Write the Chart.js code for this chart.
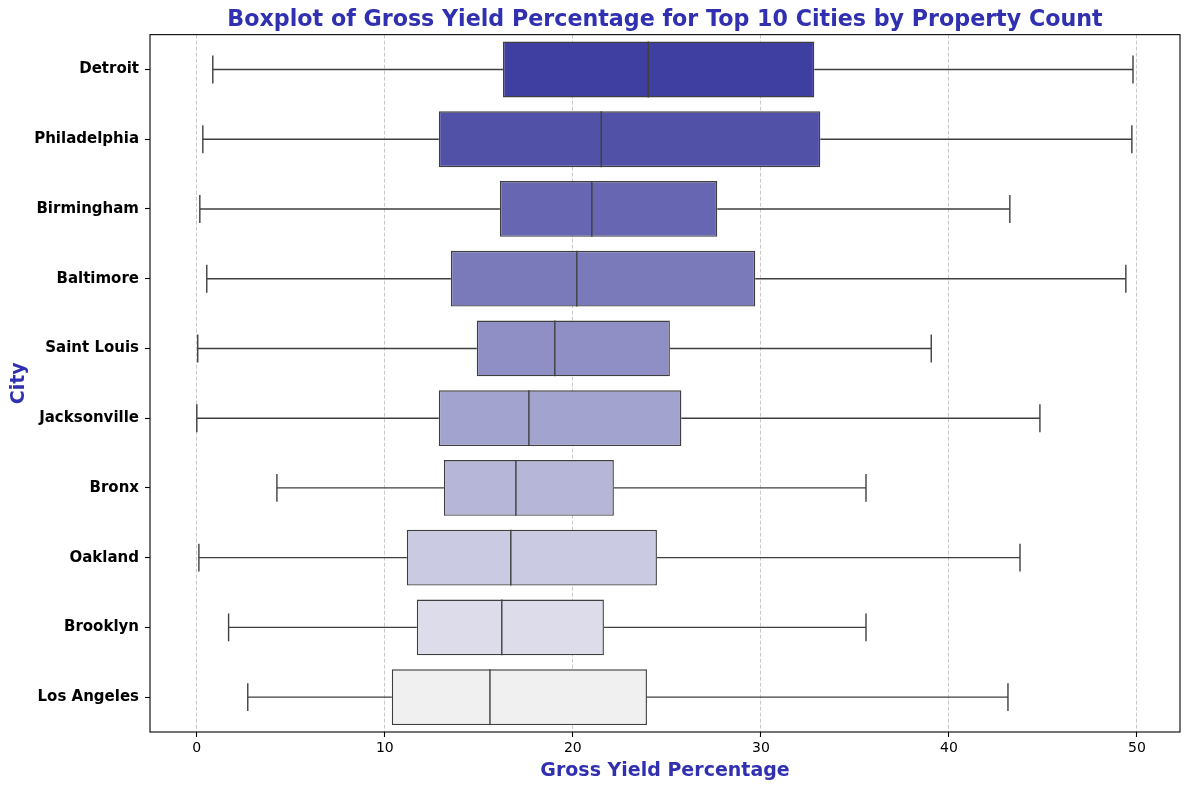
<!DOCTYPE html>
<html>
<head>
<meta charset="utf-8">
<script src="https://cdn.jsdelivr.net/npm/chart.js@4.4.1/dist/chart.umd.min.js"></script>
<style>
  html, body { margin: 0; padding: 0; background: #ffffff; }
  #wrap { width: 1189px; height: 790px; position: relative; }
</style>
</head>
<body>
<div id="wrap"><canvas id="c"></canvas></div>
<script>
// ---- data ----
const cities = ["Detroit", "Philadelphia", "Birmingham", "Baltimore", "Saint Louis",
                "Jacksonville", "Bronx", "Oakland", "Brooklyn", "Los Angeles"];
const whiskerLow  = [0.85, 0.32, 0.16, 0.53, 0.05, 0.00, 4.26, 0.11, 1.69, 2.71];
const q1          = [16.28, 12.87, 16.12, 13.51, 14.89, 12.87, 13.14, 11.17, 11.70, 10.37];
const median      = [24.01, 21.51, 21.01, 20.21, 19.04, 17.66, 16.97, 16.70, 16.22, 15.59];
const q3          = [32.84, 33.16, 27.68, 29.70, 25.16, 25.77, 22.18, 24.47, 21.65, 23.94];
const whiskerHigh = [49.79, 49.73, 43.24, 49.41, 39.06, 44.84, 35.59, 43.78, 35.59, 43.14];
const xTicks = [0, 10, 20, 30, 40, 50];

// ---- styles ----
const boxColors = ["#3f3fa1", "#5151a8", "#6666b2", "#7a7aba", "#8f8fc5",
                   "#a3a3cf", "#b6b6d8", "#cacae2", "#dcdcea", "#f0f0f0"];
const lineColor = "#3f3f3f";
const titleColor = "#3030b0";
const FONT = "'DejaVu Sans', sans-serif";

const boxData = cities.map((c, i) => [q1[i], q3[i]]);

const boxplotPlugin = {
  id: 'boxplotExtras',
  afterDatasetsDraw(chart) {
    const ctx = chart.ctx;
    const xs = chart.scales.x;
    const meta = chart.getDatasetMeta(0);
    ctx.save();
    ctx.strokeStyle = lineColor;
    ctx.lineWidth = 1.4;
    ctx.setLineDash([]);
    meta.data.forEach((bar, i) => {
      const props = bar.getProps(['y', 'height'], true);
      const y = props.y;
      const half = props.height / 2;
      const capHalf = props.height / 4;
      const xl = xs.getPixelForValue(whiskerLow[i]);
      const x1 = xs.getPixelForValue(q1[i]);
      const xm = xs.getPixelForValue(median[i]);
      const x3 = xs.getPixelForValue(q3[i]);
      const xh = xs.getPixelForValue(whiskerHigh[i]);
      ctx.beginPath();
      ctx.moveTo(xl, y); ctx.lineTo(x1, y);
      ctx.moveTo(x3, y); ctx.lineTo(xh, y);
      ctx.moveTo(xl, y - capHalf); ctx.lineTo(xl, y + capHalf);
      ctx.moveTo(xh, y - capHalf); ctx.lineTo(xh, y + capHalf);
      ctx.moveTo(xm, y - half); ctx.lineTo(xm, y + half);
      ctx.stroke();
    });
    ctx.restore();
  },
  afterDraw(chart) {
    const a = chart.chartArea;
    const ctx = chart.ctx;
    ctx.save();
    ctx.strokeStyle = '#000000';
    ctx.lineWidth = 1.1;
    ctx.setLineDash([]);
    ctx.strokeRect(a.left, a.top, a.right - a.left, a.bottom - a.top);
    ctx.restore();
  }
};

new Chart(document.getElementById('c'), {
  type: 'bar',
  data: {
    labels: cities,
    datasets: [{
      data: boxData,
      backgroundColor: boxColors,
      borderColor: lineColor,
      borderWidth: 1.4,
      borderSkipped: false,
      categoryPercentage: 0.8,
      barPercentage: 1.0
    }]
  },
  options: {
    indexAxis: 'y',
    responsive: true,
    maintainAspectRatio: false,
    animation: false,
    layout: { padding: { left: 0, right: 9, top: 0, bottom: 0 } },
    plugins: {
      legend: { display: false },
      tooltip: { enabled: false },
      title: {
        display: true,
        fullSize: false,
        text: 'Boxplot of Gross Yield Percentage for Top 10 Cities by Property Count',
        color: titleColor,
        font: { family: FONT, size: 22.2, weight: 'bold' },
        padding: { top: 7, bottom: 1 }
      }
    },
    scales: {
      x: {
        type: 'linear',
        min: -2.49,
        max: 52.29,
        afterBuildTicks(scale) { scale.ticks = xTicks.map(v => ({ value: v })); },
        afterFit(scale) { scale.height = 58; },
        ticks: {
          color: '#000000',
          font: { family: FONT, size: 14 },
          padding: 3,
          maxRotation: 0,
          autoSkip: false
        },
        grid: {
          color: 'rgba(176,176,176,0.75)',
          lineWidth: 0.9,
          drawTicks: true,
          tickLength: 5,
          tickColor: '#000000',
          tickWidth: 1.1,
          tickBorderDash: []
        },
        border: { display: false, dash: [4, 2] },
        title: {
          display: true,
          text: 'Gross Yield Percentage',
          color: titleColor,
          font: { family: FONT, size: 19, weight: 'bold' },
          padding: { top: 0, bottom: 8 }
        }
      },
      y: {
        type: 'category',
        offset: true,
        afterFit(scale) { scale.width = 150; },
        ticks: {
          color: '#000000',
          font: { family: FONT, size: 15, weight: 'bold' },
          padding: 6,
          autoSkip: false
        },
        grid: {
          offset: false,
          drawOnChartArea: false,
          drawTicks: true,
          tickLength: 5,
          tickColor: '#000000',
          tickWidth: 1.1
        },
        border: { display: false },
        title: {
          display: true,
          text: 'City',
          color: titleColor,
          font: { family: FONT, size: 19, weight: 'bold' },
          padding: { top: 8, bottom: 0 }
        }
      }
    }
  },
  plugins: [boxplotPlugin]
});
</script>
</body>
</html>
